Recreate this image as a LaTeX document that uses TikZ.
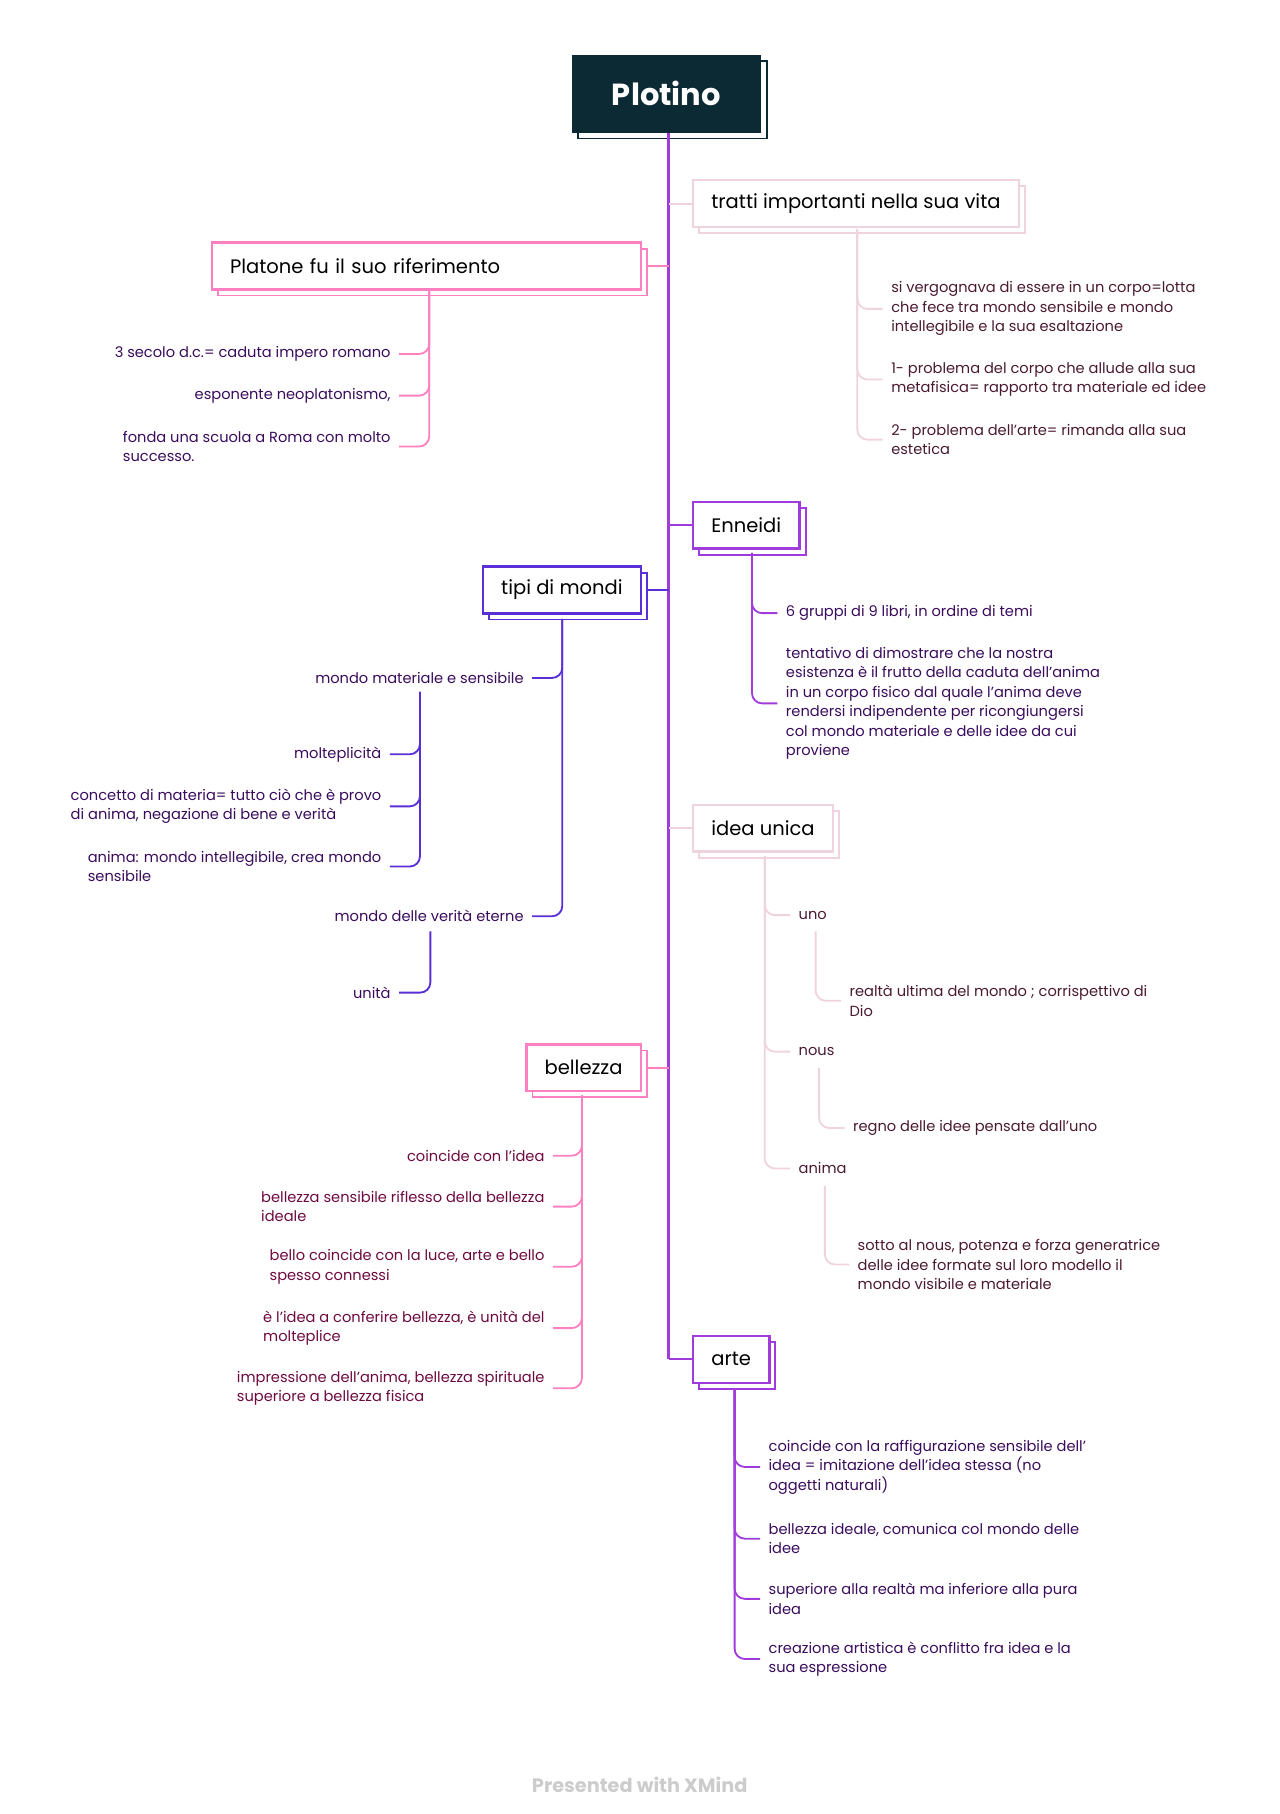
\documentclass[tikz,border=0pt]{standalone}
\usepackage{fontspec}
\setmainfont{Poppins}
\usetikzlibrary{positioning,shadows}
\definecolor{mypurple}{HTML}{A03CDC}
\definecolor{myviolet}{HTML}{5A2FD8}
\definecolor{mypink}{HTML}{FF80C0}
\definecolor{mylight}{HTML}{EFD3DF}
\definecolor{mydark}{HTML}{0B2A33}
\definecolor{txtpurple}{HTML}{3A0C5C}
\definecolor{txtred}{HTML}{6E0A40}
\definecolor{txtbrown}{HTML}{4A1A30}

\begin{document}
\begin{tikzpicture}[x=0.02cm,y=-0.02cm,
  topic/.style={draw=#1, line width=1.2pt, fill=white, minimum height=23pt, inner xsep=9pt,
    font=\fontsize{9.6}{12}\selectfont, text=black,
    copy shadow={shadow xshift=3pt, shadow yshift=-3pt, draw=#1, line width=0.9pt, fill=white}},
  item/.style={inner xsep=4pt, inner ysep=0pt, align=left, text=#1,
    font=\fontsize{7.2}{9.6}\selectfont},
  link/.style={draw=#1, line width=0.9pt, rounded corners=5pt}]

\useasboundingbox (0,0) rectangle (1106,1568);
% main title
\node [fill=mydark, draw=mydark, text=white, font=\fontsize{15}{18}\selectfont\bfseries,
  minimum height=38pt, minimum width=3.26cm, align=center,
  copy shadow={shadow xshift=3pt, shadow yshift=-3pt, draw=mydark, fill=white, line width=0.9pt}]
  (root) at (576,81) {Plotino};
\coordinate (trunkend) at (578,1175);
\draw [mypurple, line width=1.2pt] (root.south -| trunkend) -- (trunkend);

% topics
\node [topic=mylight, anchor=west] (vita) at (598,176) {tratti importanti nella sua vita};
\node [topic=mypink, anchor=east, text width=7.42cm-18pt] (platone) at (555,230) {Platone fu il suo riferimento};
\node [topic=mypurple, anchor=west] (enneidi) at (598,454) {Enneidi};
\node [topic=myviolet, anchor=east] (mondi) at (555,510) {tipi di mondi};
\node [topic=mylight, anchor=west] (idea) at (598,716) {idea unica};
\node [topic=mypink, anchor=east] (bellezza) at (555,923) {bellezza};
\node [topic=mypurple, anchor=west] (arte) at (598,1175) {arte};

\draw [link=mylight] (trunkend |- vita.west) -- (vita.west);
\draw [link=mypink] (trunkend |- platone.east) -- ([xshift=3pt]platone.east);
\draw [link=mypurple] (trunkend |- enneidi.west) -- (enneidi.west);
\draw [link=myviolet] (trunkend |- mondi.east) -- ([xshift=3pt]mondi.east);
\draw [link=mylight] (trunkend |- idea.west) -- (idea.west);
\draw [link=mypink] (trunkend |- bellezza.east) -- ([xshift=3pt]bellezza.east);
\draw [link=mypurple] (trunkend |- arte.west) -- (arte.west);

% platone
\coordinate (pv) at (371,251);
\node [item=txtpurple, anchor=east] (p1) at (345,306) {3 secolo d.c.= caduta impero romano};
\node [item=txtpurple, anchor=east] (p2) at (345,342) {esponente neoplatonismo,};
\node [item=txtpurple, anchor=east] (p3) at (345,386) {fonda una scuola a Roma con molto\\successo.};
\foreach \n in {p1,p2,p3} \draw [link=mypink] (pv) |- (\n.east);

% vita
\coordinate (tv) at (741,198);
\node [item=txtbrown, anchor=west] (t1) at (763,267) {si vergognava di essere in un corpo=lotta\\che fece tra mondo sensibile e mondo\\intellegibile e la sua esaltazione};
\node [item=txtbrown, anchor=west] (t2) at (763,328) {1- problema del corpo che allude alla sua\\metafisica= rapporto tra materiale ed idee};
\node [item=txtbrown, anchor=west] (t3) at (763,380) {2- problema dell'arte= rimanda alla sua\\estetica};
\foreach \n in {t1,t2,t3} \draw [link=mylight] (tv) |- (\n.west);

% enneidi
\coordinate (ev) at (650,478);
\node [item=txtpurple, anchor=west] (e1) at (672,530) {6 gruppi di 9 libri, in ordine di temi};
\node [item=txtpurple, anchor=west] (e2) at (672,608) {tentativo di dimostrare che la nostra\\esistenza è il frutto della caduta dell'anima\\in un corpo fisico dal quale l'anima deve\\rendersi indipendente per ricongiungersi\\col mondo materiale e delle idee da cui\\proviene};
\foreach \n in {e1,e2} \draw [link=mypurple] (ev) |- (\n.west);

% tipi di mondi
\coordinate (mv) at (486,535);
\node [item=txtpurple, anchor=east] (m1) at (460,586) {mondo materiale e sensibile};
\node [item=txtpurple, anchor=east] (m2) at (460,792) {mondo delle verità eterne};
\foreach \n in {m1,m2} \draw [link=myviolet] (mv) |- (\n.east);
\coordinate (mav) at (363,598);
\node [item=txtpurple, anchor=east] (ma1) at (337,652) {molteplicità};
\node [item=txtpurple, anchor=east] (ma2) at (337,697) {concetto di materia= tutto ciò che è provo\\di anima, negazione di bene e verità};
\node [item=txtpurple, anchor=east] (ma3) at (337,749) {anima: mondo intellegibile, crea mondo\\sensibile};
\foreach \n in {ma1,ma2,ma3} \draw [link=myviolet] (mav) |- (\n.east);
\coordinate (mbv) at (372,805);
\node [item=txtpurple, anchor=east] (mb1) at (345,858) {unità};
\draw [link=myviolet] (mbv) |- (mb1.east);

% idea unica
\coordinate (iv) at (661,740);
\node [item=txtbrown, anchor=west] (i1) at (683,791) {uno};
\node [item=txtbrown, anchor=west] (i2) at (683,909) {nous};
\node [item=txtbrown, anchor=west] (i3) at (683,1010) {anima};
\foreach \n in {i1,i2,i3} \draw [link=mylight] (iv) |- (\n.west);
\coordinate (iav) at (705,805);
\node [item=txtbrown, anchor=west] (ia1) at (727,865) {realtà ultima del mondo ; corrispettivo di\\Dio};
\draw [link=mylight] (iav) |- (ia1.west);
\coordinate (ibv) at (708,923);
\node [item=txtbrown, anchor=west] (ib1) at (730,975) {regno delle idee pensate dall'uno};
\draw [link=mylight] (ibv) |- (ib1.west);
\coordinate (icv) at (713,1025);
\node [item=txtbrown, anchor=west] (ic1) at (734,1093) {sotto al nous, potenza e forza generatrice\\delle idee formate sul loro modello il\\mondo visibile e materiale};
\draw [link=mylight] (icv) |- (ic1.west);

% bellezza
\coordinate (bv) at (503,947);
\node [item=txtred, anchor=east] (b1) at (478,999) {coincide con l'idea};
\node [item=txtred, anchor=east] (b2) at (478,1043) {bellezza sensibile riflesso della bellezza\\ideale};
\node [item=txtred, anchor=east] (b3) at (478,1095) {bello coincide con la luce, arte e bello\\spesso connessi};
\node [item=txtred, anchor=east] (b4) at (478,1148) {è l'idea a conferire bellezza, è unità del\\molteplice};
\node [item=txtred, anchor=east] (b5) at (478,1200) {impressione dell'anima, bellezza spirituale\\superiore a bellezza fisica};
\foreach \n in {b1,b2,b3,b4,b5} \draw [link=mypink] (bv) |- (\n.east);

% arte
\coordinate (av) at (635,1200);
\node [item=txtpurple, anchor=west] (a1) at (657,1268) {coincide con la raffigurazione sensibile dell'\\idea = imitazione dell'idea stessa (no\\oggetti naturali)};
\node [item=txtpurple, anchor=west] (a2) at (657,1330) {bellezza ideale, comunica col mondo delle\\idee};
\node [item=txtpurple, anchor=west] (a3) at (657,1382) {superiore alla realtà ma inferiore alla pura\\idea};
\node [item=txtpurple, anchor=west] (a4) at (657,1434) {creazione artistica è conflitto fra idea e la\\sua espressione};
\foreach \n in {a1,a2,a3,a4} \draw [link=mypurple] (av) |- (\n.west);

% footer
\node [text=black!20, font=\fontsize{9.5}{11}\selectfont\bfseries] (footer) at (553,1543) {Presented with XMind};
\end{tikzpicture}
\end{document}
